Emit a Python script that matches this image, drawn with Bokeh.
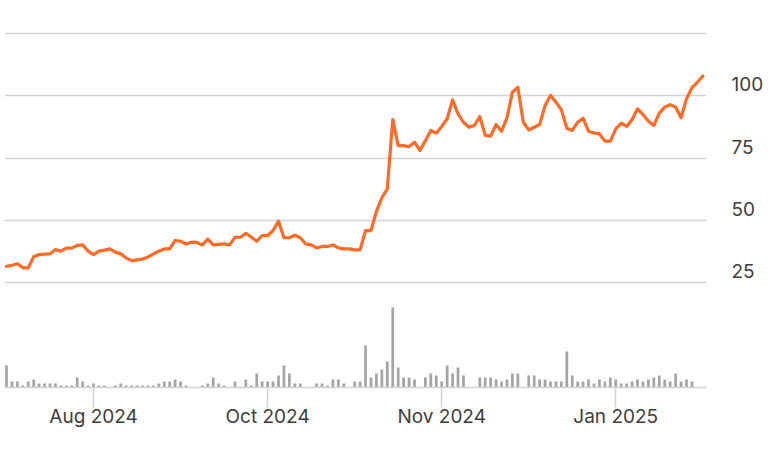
from bokeh.plotting import figure
from bokeh.models import Range1d, LinearAxis, FixedTicker, ColumnDataSource
from bokeh.embed import file_html
from bokeh.resources import INLINE

# ---- data ----
price = [31.4, 31.8, 32.4, 30.8, 30.8, 35.3, 36.1, 36.3, 36.4, 38.2,
         37.5, 38.7, 38.7, 39.8, 40.0, 37.5, 36.1, 37.5, 37.9, 38.4,
         37.1, 36.4, 34.7, 33.7, 34.0, 34.3, 35.1, 36.4, 37.5, 38.4,
         38.4, 41.8, 41.5, 40.4, 41.1, 41.0, 40.0, 42.3, 40.0, 40.2,
         40.4, 40.0, 43.1, 43.1, 44.7, 43.1, 41.5, 43.8, 43.8, 45.8,
         49.6, 42.9, 42.9, 43.9, 42.9, 40.4, 40.0, 38.8, 39.4, 39.4,
         40.0, 38.8, 38.4, 38.4, 38.0, 38.0, 45.8, 45.8, 53.5, 59.0,
         62.6, 90.5, 80.0, 80.0, 79.6, 81.4, 78.0, 82.0, 86.1, 85.0,
         87.7, 90.8, 98.4, 92.8, 89.4, 87.4, 88.1, 91.7, 84.1, 83.8,
         88.5, 85.8, 91.2, 101.5, 103.5, 89.4, 86.3, 87.4, 88.5, 96.1,
         100.2, 97.5, 94.4, 87.0, 86.1, 89.4, 91.0, 85.7, 85.1, 84.7,
         81.8, 81.8, 86.7, 89.0, 87.7, 90.5, 94.8, 92.5, 89.8, 88.1,
         93.1, 95.5, 96.5, 95.5, 91.2, 98.8, 103.3, 105.5, 108.0]

volume = [22, 6, 6, 2, 6, 8, 4, 4, 4, 4,
          2, 2, 2, 10, 6, 2, 4, 2, 2, 0,
          2, 4, 2, 2, 2, 2, 2, 2, 4, 6,
          6, 8, 6, 2, 0, 0, 2, 4, 10, 4,
          2, 0, 6, 0, 8, 2, 14, 6, 6, 6,
          12, 22, 14, 4, 4, 0, 0, 4, 4, 2,
          8, 8, 4, 0, 6, 6, 42, 10, 14, 18,
          26, 80, 20, 10, 10, 8, 0, 10, 14, 12,
          6, 22, 14, 20, 12, 0, 0, 10, 10, 10,
          8, 6, 8, 14, 14, 0, 12, 12, 8, 8,
          6, 6, 6, 36, 12, 6, 6, 8, 4, 8,
          6, 10, 8, 4, 4, 6, 8, 6, 8, 10,
          12, 8, 6, 14, 6, 8, 6, 0, 0]

tick_idx = [16, 48, 80, 112]
tick_labels = ["Aug 2024", "Oct 2024", "Nov 2024", "Jan 2025"]
price_ticks = [25, 50, 75, 100]
grid_values = [25, 50, 75, 100, 125]

idx = list(range(len(price)))
src = ColumnDataSource(dict(i=idx, price=price, volume=volume))

FONT = "Inter"
TXT = "#3d3d3d"
GRID = "#d2d2d2"

p = figure(width=776, height=442, output_backend="svg", toolbar_location=None,
           x_range=Range1d(-0.37, 128.68), y_range=Range1d(-17.4, 135.2),
           min_border_left=4, min_border_top=8, min_border_right=70,
           min_border_bottom=55, x_axis_location=None, y_axis_location=None)
p.outline_line_color = None
p.background_fill_color = "white"
p.border_fill_color = "white"

p.extra_y_ranges = {"vol": Range1d(0, 379), "lab": Range1d(-17.4 - 4.63, 135.2 - 4.63)}

# grid
p.xgrid.visible = False
p.ygrid.ticker = FixedTicker(ticks=grid_values)
p.ygrid.grid_line_color = GRID
p.ygrid.grid_line_width = 1.5

# volume
p.vbar(x="i", top="volume", bottom=0, width=0.5, source=src, y_range_name="vol",
       fill_color="#a4a4a4", line_color=None)

# price line
p.line(x="i", y="price", source=src, line_color="#FF6A26", line_width=3.2,
       line_join="round", line_cap="round")

# bottom axis
xa = LinearAxis(ticker=FixedTicker(ticks=tick_idx),
                major_label_overrides={t: l for t, l in zip(tick_idx, tick_labels)})
xa.axis_line_color = GRID
xa.axis_line_width = 1.5
xa.major_tick_line_color = GRID
xa.major_tick_line_width = 1.5
xa.major_tick_out = 20
xa.major_tick_in = 0
xa.minor_tick_line_color = None
xa.major_label_standoff = -3
xa.major_label_text_font = FONT
xa.major_label_text_font_size = "19px"
xa.major_label_text_color = TXT
p.add_layout(xa, "below")

# right axis (labels sit above gridlines)
ya = LinearAxis(y_range_name="lab", ticker=FixedTicker(ticks=price_ticks))
ya.axis_line_color = None
ya.major_tick_line_color = None
ya.minor_tick_line_color = None
ya.major_tick_out = 0
ya.major_tick_in = 0
ya.major_label_standoff = 25
ya.major_label_text_font = FONT
ya.major_label_text_font_size = "19px"
ya.major_label_text_color = TXT
p.add_layout(ya, "right")

open("out.html", "w").write(file_html(p, INLINE))
